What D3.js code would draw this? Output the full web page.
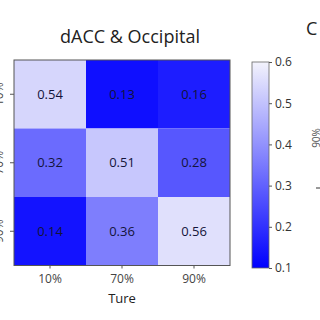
<!DOCTYPE html>
<html>
<head>
<meta charset="utf-8">
<script src="https://cdn.jsdelivr.net/npm/d3@7"></script>
<style>
  body { margin: 0; background: #fff; }
  svg { display: block; font-family: "Open Sans", sans-serif; }
</style>
</head>
<body>
<div id="chart"></div>
<script>
var rowLabels = ["10%", "70%", "90%"];
var colLabels = ["10%", "70%", "90%"];
var values = [
  [0.54, 0.13, 0.16],
  [0.32, 0.51, 0.28],
  [0.14, 0.36, 0.56]
];
var colorTicks = [0.1, 0.2, 0.3, 0.4, 0.5, 0.6];
var title = "dACC & Occipital";
var xTitle = "Ture";

var svg = d3.select("#chart").append("svg")
  .attr("width", 320).attr("height", 320);

var x = d3.scaleBand().domain(colLabels).range([14, 230]);
var y = d3.scaleBand().domain(rowLabels).range([60, 265.5]);
var color = d3.scaleLinear().domain([0.1, 0.6]).range(["#0000ff", "#f3f3fc"]).clamp(true);

// cells
var cells = [];
values.forEach(function(row, i) {
  row.forEach(function(v, j) { cells.push({r: rowLabels[i], c: colLabels[j], v: v}); });
});

svg.selectAll("rect.cell")
  .data(cells)
  .enter()
  .append("rect")
  .attr("class", "cell")
  .attr("x", function(d) { return x(d.c); })
  .attr("y", function(d) { return y(d.r); })
  .attr("width", x.bandwidth())
  .attr("height", y.bandwidth())
  .style("fill", function(d) { return color(d.v); });

svg.selectAll("text.val")
  .data(cells)
  .enter()
  .append("text")
  .attr("class", "val")
  .attr("x", function(d) { return x(d.c) + x.bandwidth() / 2; })
  .attr("y", function(d) { return y(d.r) + y.bandwidth() / 2 + 4.5; })
  .attr("text-anchor", "middle")
  .style("font-size", "13px")
  .style("fill", "#14143a")
  .text(function(d) { return d.v.toFixed(2); });

// frame
svg.append("rect")
  .attr("x", 14).attr("y", 60).attr("width", 216).attr("height", 205.5)
  .style("fill", "none").style("stroke", "#555").style("stroke-width", 1);

// x axis
var xAxis = svg.append("g").attr("transform", "translate(0,265.5)")
  .call(d3.axisBottom(x).tickSize(3).tickPadding(6));
xAxis.select(".domain").remove();
xAxis.selectAll("line").style("stroke", "#555");
xAxis.selectAll("text").style("font-size", "12px").style("fill", "#444").style("font-family", "Open Sans, sans-serif");

svg.append("text")
  .attr("x", 122).attr("y", 303)
  .attr("text-anchor", "middle")
  .style("font-size", "13px").style("fill", "#222")
  .text(xTitle);

// y axis (labels mostly cut off at left edge)
var yAxis = svg.append("g").attr("transform", "translate(14,0)")
  .call(d3.axisLeft(y).tickSize(4).tickPadding(0));
yAxis.select(".domain").remove();
yAxis.selectAll("line").style("stroke", "#555");
yAxis.selectAll("text")
  .attr("x", 0).attr("dy", null)
  .attr("transform", "translate(-11,0) rotate(-90)")
  .attr("text-anchor", "middle")
  .style("font-size", "12px").style("fill", "#444").style("font-family", "Open Sans, sans-serif");

// title
svg.append("text")
  .attr("x", 130).attr("y", 43)
  .attr("text-anchor", "middle")
  .style("font-size", "18px").style("fill", "#222")
  .text(title);

// colorbar
var cb = svg.append("g");
var cbY = d3.scaleLinear().domain([0.1, 0.6]).range([268, 62]);
var defs = svg.append("defs");
var grad = defs.append("linearGradient").attr("id", "cbgrad")
  .attr("x1", 0).attr("y1", 1).attr("x2", 0).attr("y2", 0);
grad.selectAll("stop")
  .data(colorTicks)
  .enter()
  .append("stop")
  .attr("offset", function(d) { return (d - 0.1) / 0.5; })
  .attr("stop-color", function(d) { return color(d); });
cb.append("rect")
  .attr("x", 252).attr("y", 62).attr("width", 17).attr("height", 206)
  .style("fill", "url(#cbgrad)").style("stroke", "#666").style("stroke-width", 0.8);
var cbAxis = svg.append("g").attr("transform", "translate(269,0)")
  .call(d3.axisRight(cbY).tickValues(colorTicks).tickSize(3).tickPadding(3).tickFormat(d3.format(".1f")));
cbAxis.select(".domain").remove();
cbAxis.selectAll("line").style("stroke", "#555");
cbAxis.selectAll("text").style("font-size", "12px").style("fill", "#333").style("font-family", "Open Sans, sans-serif");

// neighbouring panel, cut off at right edge
svg.append("text")
  .attr("x", 306).attr("y", 35)
  .style("font-size", "18px").style("fill", "#222")
  .text("C");
svg.append("text")
  .attr("transform", "translate(320,138) rotate(-90)")
  .attr("text-anchor", "middle")
  .style("font-size", "10px").style("fill", "#555")
  .text("90%");
svg.append("line")
  .attr("x1", 316).attr("x2", 320).attr("y1", 188).attr("y2", 188)
  .style("stroke", "#333");
</script>
</body>
</html>
